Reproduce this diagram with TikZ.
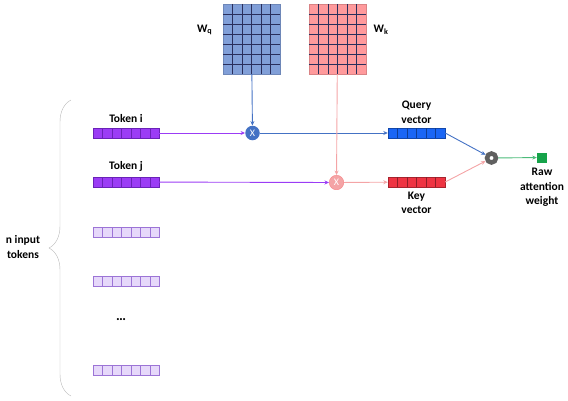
\documentclass[tikz,border=0pt]{standalone}
\usepackage{fontspec}
\setmainfont{Carlito}
\usetikzlibrary{positioning,calc,arrows.meta,decorations.pathreplacing}
\definecolor{tokpurple}{HTML}{9B3CF5}
\definecolor{tokline}{HTML}{6A22B8}
\definecolor{tokpale}{HTML}{E6D8FA}
\definecolor{tokpaleline}{HTML}{9C74D6}
\definecolor{wqblue}{HTML}{819FD8}
\definecolor{wkpink}{HTML}{FF9A9C}
\definecolor{gridline}{HTML}{2A2F5C}
\definecolor{opblue}{HTML}{4472C4}
\definecolor{oppink}{HTML}{F4A4A6}
\definecolor{qblue}{HTML}{1A66F5}
\definecolor{kred}{HTML}{EE3442}
\definecolor{wgreen}{HTML}{16A34A}
\definecolor{arrgreen}{HTML}{4CBB7A}
\begin{document}
\begin{tikzpicture}[x=1pt, y=-1pt, >={Stealth[length=4.5pt,width=4pt]}, thin,
    font=\fontsize{11.5}{14.5}\selectfont\bfseries,
    tok/.style = {draw=tokline, fill=tokpurple, minimum width=66pt, minimum height=10pt, inner sep=0pt},
    pale/.style = {draw=tokpaleline, fill=tokpale, minimum width=66pt, minimum height=10pt, inner sep=0pt},
    mat/.style = {minimum width=57pt, minimum height=70pt, inner sep=0pt},
    vec/.style = {minimum width=57pt, minimum height=10pt, inner sep=0pt},
    op/.style = {circle, minimum size=14.5pt, inner sep=0pt, text=white, font=\fontsize{10}{10}\selectfont},
    conn/.style = {line width=0.9pt, ->},
    lbl/.style = {align=center}]
    \useasboundingbox (0,0) rectangle (568,400);
    % weight matrices
    \node[mat, fill=wqblue, draw=wqblue!85!black] (wq) at (251.5,39) {};
    \node[mat, fill=wkpink, draw=wkpink!85!black] (wk) at (337.5,39) {};
    \node (wqlbl) [left=7pt of wq.west, yshift=9pt] {W\textsubscript{q}};
    \node (wklbl) [right=4pt of wk.east, yshift=9pt] {W\textsubscript{k}};
    \foreach \n in {wq,wk} {
        \foreach \k in {1,...,5}
            \draw[gridline] ($(\n.north west)!\k/6!(\n.north east)$) -- ($(\n.south west)!\k/6!(\n.south east)$);
        \foreach \k in {1,...,6}
            \draw[gridline] ($(\n.north west)!\k/7!(\n.south west)$) -- ($(\n.north east)!\k/7!(\n.south east)$);
    }
    % input tokens
    \node[tok] (ti) at (126,133) {};
    \node[tok] (tj) at (126,182) {};
    \node[pale] (t3) at (126,232) {};
    \node[pale] (t4) at (126,281.5) {};
    \node[pale] (tn) at (126,370) {};
    \node (dots) at (121,320) {\fontsize{14}{14}\selectfont\dots};
    \node (tilbl) [above=2pt of ti] {Token i};
    \node (tjlbl) [above=2pt of tj] {Token j};
    \foreach \n in {ti,tj}
        \foreach \k in {1,...,6}
            \draw[tokline] ($(\n.south west)!\k/7!(\n.south east)$) -- ($(\n.north west)!\k/7!(\n.north east)$);
    \foreach \n in {t3,t4,tn}
        \foreach \k in {1,...,6}
            \draw[tokpaleline] ($(\n.south west)!\k/7!(\n.south east)$) -- ($(\n.north west)!\k/7!(\n.north east)$);
    \draw[decorate, decoration={brace, amplitude=22pt}, gray!55] (71,396) -- (71,100);
    \node[lbl] (ntok) at (23,247) {n input\\tokens};
    % products
    \node[op, fill=opblue] (xq) at (252.5,133) {X};
    \node[op, fill=oppink, draw=oppink!80!red] (xk) at (336.5,182.5) {X};
    \node[vec, fill=qblue, draw=qblue!70!black] (qv) at (416.5,133) {};
    \node[vec, fill=kred, draw=kred!70!black] (kv) at (416.5,182) {};
    \foreach \n/\c in {qv/qblue,kv/kred}
        \foreach \k in {1,...,5}
            \draw[\c!60!black] ($(\n.south west)!\k/6!(\n.south east)$) -- ($(\n.north west)!\k/6!(\n.north east)$);
    \node[lbl] (qlbl) [above=1pt of qv] {Query\\vector};
    \node[lbl] (klbl) [below=1pt of kv] {Key\\vector};
    \node[circle, draw=gray!75!black, line width=4.5pt, fill=white, minimum size=9pt, inner sep=0pt] (dot) at (491.5,158) {};
    \node[fill=wgreen, minimum size=10pt, inner sep=0pt] (raw) at (542,157.5) {};
    \node[lbl] (rawlbl) [below=2pt of raw] {Raw\\attention\\weight};
    % connectors
    \draw[conn, tokpurple] (ti) -- (xq);
    \draw[conn, tokpurple] (tj) -- (xk);
    \draw[conn, opblue] (wq) -- (xq);
    \draw[conn, opblue] (xq) -- (qv);
    \draw[conn, oppink] (wk) -- (xk);
    \draw[conn, oppink] (xk) -- (kv);
    \draw[conn, opblue] (qv.east) -- (dot);
    \draw[conn, oppink] (kv.east) -- (dot);
    \draw[conn, arrgreen] (dot) -- (raw);
\end{tikzpicture}
\end{document}
